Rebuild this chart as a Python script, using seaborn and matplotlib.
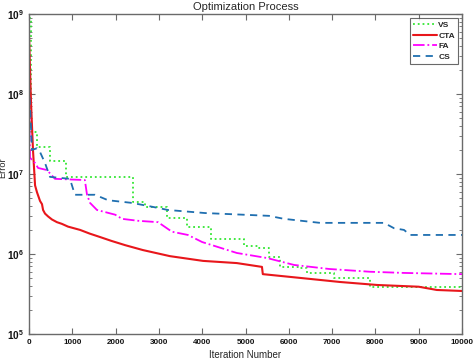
import numpy as np
import pandas as pd
import matplotlib
matplotlib.use("Agg")
import matplotlib.pyplot as plt
import seaborn as sns

# ---- data ----
vs_x = [0, 50, 185, 485, 855, 2400, 2680, 3190, 3650, 4200, 4965, 5310, 5540, 5800, 6260, 6420, 7040, 7875, 10000]
vs_y = [9.0e8, 3.35e7, 2.2e7, 1.45e7, 9.2e6, 4.5e6, 3.9e6, 2.8e6, 2.18e6, 1.55e6, 1.26e6, 1.2e6, 9.2e5, 6.9e5, 6.7e5, 5.8e5, 5.0e5, 3.9e5, 3.76e5]

cta_x = [0, 46, 92, 140, 185, 255, 300, 325, 370, 440, 530, 645, 760, 900, 1180, 1400, 1640, 1900, 2220, 2630, 3255, 4020, 4800, 5380, 5400, 6300, 7180, 8040, 9000, 9420, 10000]
cta_y = [5.5e8, 8.0e7, 2.0e7, 7.2e6, 5.9e6, 4.6e6, 4.2e6, 3.55e6, 3.2e6, 2.95e6, 2.7e6, 2.5e6, 2.38e6, 2.2e6, 2.0e6, 1.8e6, 1.63e6, 1.46e6, 1.29e6, 1.12e6, 9.4e5, 8.2e5, 7.7e5, 6.9e5, 5.6e5, 5.0e5, 4.47e5, 4.1e5, 3.9e5, 3.55e5, 3.45e5]

fa_x = [0, 23, 140, 210, 415, 600, 1290, 1340, 1410, 1570, 1990, 2150, 2520, 2980, 3140, 3300, 3670, 4000, 4800, 5500, 6120, 6930, 7875, 8660, 10000]
fa_y = [1.07e8, 1.6e7, 1.37e7, 1.19e7, 1.12e7, 8.7e6, 8.4e6, 5.5e6, 4.35e6, 3.55e6, 3.1e6, 2.75e6, 2.6e6, 2.5e6, 2.18e6, 1.9e6, 1.73e6, 1.41e6, 1.03e6, 8.9e5, 7.3e5, 6.5e5, 6.0e5, 5.8e5, 5.6e5]

cs_x = [0, 70, 185, 255, 370, 485, 945, 1060, 1525, 1825, 2380, 2840, 3210, 4065, 5540, 5890, 6720, 8200, 8430, 8660, 8800, 10000]
cs_y = [1.3e8, 2.0e7, 2.1e7, 1.88e7, 1.37e7, 9.2e6, 8.7e6, 5.5e6, 5.5e6, 4.7e6, 4.35e6, 3.9e6, 3.55e6, 3.25e6, 3.0e6, 2.75e6, 2.45e6, 2.45e6, 2.1e6, 2.0e6, 1.73e6, 1.73e6]

labels = ["VS", "CTA", "FA", "CS"]
x_ticks = [0, 1000, 2000, 3000, 4000, 5000, 6000, 7000, 8000, 9000, 10000]

sns.set_style("ticks")
plt.rcParams["font.family"] = ["Liberation Sans", "DejaVu Sans"]
plt.rcParams["mathtext.fontset"] = "custom"
plt.rcParams["mathtext.rm"] = "Liberation Sans:bold"
plt.rcParams["mathtext.default"] = "rm"

fig = plt.figure(figsize=(4.74, 3.61), dpi=100)
ax = fig.add_axes([29 / 474, 27 / 361, 433 / 474, 320 / 361])

sns.lineplot(x=vs_x, y=vs_y, ax=ax, color="#33e633", linestyle=":", linewidth=1.3,
             drawstyle="steps-post", label=labels[0])
sns.lineplot(x=cta_x, y=cta_y, ax=ax, color="#e8161b", linestyle="-", linewidth=1.5,
             label=labels[1])
sns.lineplot(x=fa_x, y=fa_y, ax=ax, color="#ff00ff", linestyle="-.", linewidth=1.3,
             label=labels[2])
sns.lineplot(x=cs_x, y=cs_y, ax=ax, color="#1f6fb0", linestyle=(0, (4, 3)), linewidth=1.3,
             label=labels[3])

ax.set_yscale("log")
ax.set_xlim(0, 10000)
ax.set_ylim(1e5, 1e9)
ax.set_xticks(x_ticks)
ax.set_xticklabels([str(t) for t in x_ticks])

axis_col = "#6a6a6a"
for s in ax.spines.values():
    s.set_color(axis_col)
    s.set_linewidth(1.0)
    s.set_visible(True)
ax.tick_params(which="both", direction="in", top=True, right=True, colors=axis_col,
               labelcolor="#111111", labelsize=5.8)
ax.tick_params(axis="y", which="both", labelsize=7.2)
ax.tick_params(which="major", length=4)
ax.tick_params(which="minor", length=2)
for lab in ax.get_xticklabels() + ax.get_yticklabels():
    lab.set_fontweight("bold")

ax.set_title("Optimization Process", fontsize=8, pad=3)
ax.set_xlabel("Iteration Number", fontsize=7, labelpad=3)
ax.set_ylabel("Error", fontsize=6.6)
ax.yaxis.set_label_coords(-0.0495, 0.52)

leg = ax.legend(loc="upper right", prop={"size": 6, "weight": "bold"}, handlelength=2.9,
                handletextpad=0.1, labelspacing=0.35, borderpad=0.35, borderaxespad=0.5,
                frameon=True, fancybox=False)
leg.get_frame().set_edgecolor("#444444")
leg.get_frame().set_linewidth(0.8)

fig.savefig("out.png", dpi=100)
